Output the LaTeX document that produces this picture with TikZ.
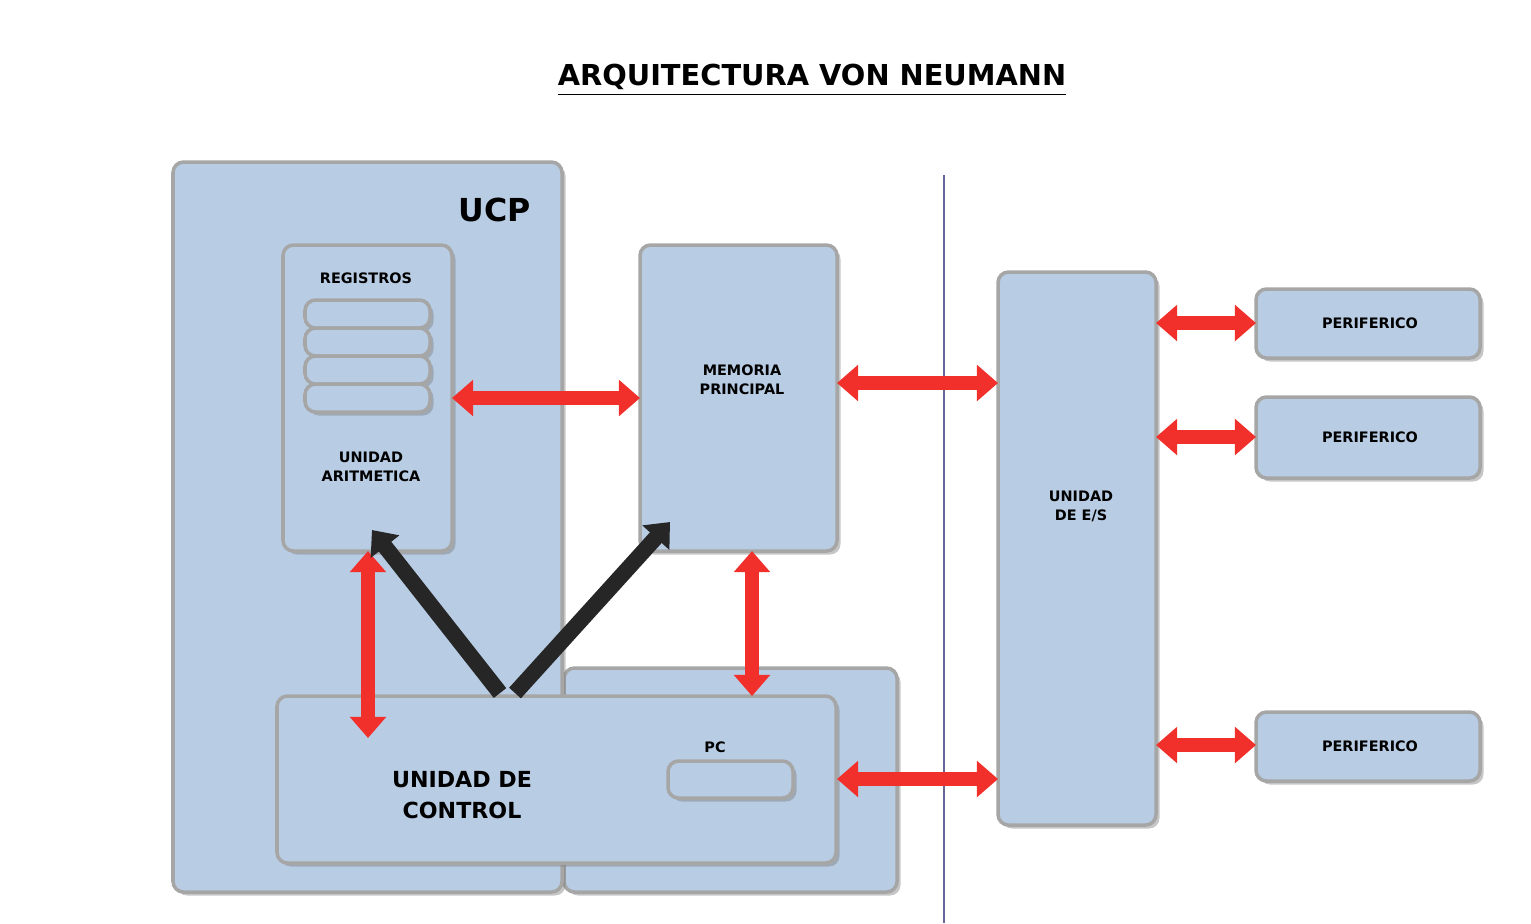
\documentclass[tikz,border=0pt]{standalone}
\usepackage{fontspec}
\setmainfont{DejaVu Sans}
\usetikzlibrary{arrows.meta,shadows}
\definecolor{boxblue}{HTML}{B8CCE4}
\definecolor{busred}{HTML}{F2302B}
\tikzset{
  caja/.style={draw=gray!70, line width=1pt, fill=boxblue, rounded corners=3pt,
    drop shadow={opacity=0.45, shadow xshift=1pt, shadow yshift=-1pt}},
  txt/.style={font=\bfseries\fontsize{4.1}{5.4}\selectfont, align=center},
  bus/.style={draw=busred, line width=4pt,
    {Triangle[length=6pt,width=10pt]}-{Triangle[length=6pt,width=10pt]}},
  ctl/.style={draw=black!85, line width=4.5pt, -{Triangle[length=6pt,width=10pt]}}
}
\begin{document}
\begin{tikzpicture}[x=0.01cm, y=-0.01cm]
    \useasboundingbox (0,0) rectangle (1531,923);
    % titulo
    \node (titulo) at (812,80) {\bfseries\fontsize{8.2}{10}\selectfont\underline{ARQUITECTURA VON NEUMANN}};
    \draw[gray!80!blue] (944,175) -- (944,923);

    % bloques
    \draw[caja] (564,668) rectangle (897,892);
    \draw[caja] (173,162) rectangle (562,892);
    \node[font=\bfseries\fontsize{9}{11}\selectfont] (ucp) at (495,210) {UCP};

    \draw[caja] (283,245) rectangle (452,551);
    \coordinate (alu) at (452,398);
    \node[txt] (registros) at (366,278) {REGISTROS};
    \foreach \y in {300,328,356,384}
        \draw[caja, drop shadow={opacity=0}] (305,\y) rectangle (430,\y+28);
    \node[txt] (aritmetica) at (371,467) {UNIDAD\\ARITMETICA};

    \draw[caja] (640,245) rectangle (837,551);
    \node[txt] (memoria) at (742,380) {MEMORIA\\PRINCIPAL};

    \draw[caja] (277,696) rectangle (836,863);
    \node[font=\bfseries\fontsize{6.3}{8.8}\selectfont, align=center] (control) at (462,795) {UNIDAD DE\\CONTROL};
    \node[txt] (pclabel) at (715,747) {PC};
    \draw[caja] (668,761) rectangle (793,798);

    \draw[caja] (998,272) rectangle (1156,825);
    \node[txt] (es) at (1081,506) {UNIDAD\\DE E/S};

    \foreach \n/\ya/\yb in {1/289/358, 2/397/478, 3/712/781} {
        \draw[caja] (1256,\ya) rectangle (1480,\yb);
        \node[txt] (per\n) at (1370,{(\ya+\yb)/2}) {PERIFERICO};
    }

    % buses
    \coordinate (m1) at (640,398);
    \coordinate (m2) at (837,383);
    \coordinate (e1) at (998,383);
    \coordinate (e2) at (998,779);
    \coordinate (c1) at (837,779);
    \draw[bus] (alu) -- (m1);
    \draw[bus] (m2) -- (e1);
    \draw[bus] (c1) -- (e2);
    \draw[bus] (1156,323) -- (1256,323);
    \draw[bus] (1156,437) -- (1256,437);
    \draw[bus] (1156,745) -- (1256,745);
    \draw[bus] (368,551) -- (368,738);
    \draw[bus] (752,551) -- (752,696);

    % control
    \draw[ctl] (500,693) -- (372,530);
    \draw[ctl] (515,693) -- (670,522);
\end{tikzpicture}
\end{document}
